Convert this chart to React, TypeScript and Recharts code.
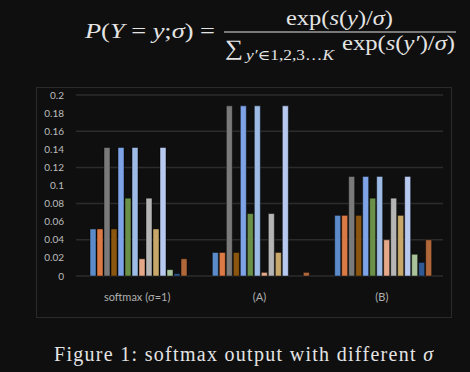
import React from "react";
import { BarChart, Bar, XAxis, YAxis, CartesianGrid } from "recharts";

const categories = ["softmax (σ=1)", "(A)", "(B)"];
const softmaxValues = [0.052, 0.052, 0.142, 0.052, 0.142, 0.086, 0.142, 0.019, 0.086, 0.052, 0.142, 0.007, 0.0026, 0.019];
const aValues = [0.026, 0.026, 0.188, 0.026, 0.188, 0.069, 0.188, 0.004, 0.069, 0.026, 0.188, 0, 0, 0.004];
const bValues = [0.067, 0.067, 0.11, 0.067, 0.11, 0.086, 0.11, 0.04, 0.086, 0.067, 0.11, 0.024, 0.015, 0.04];
const seriesColors = [
  "#5b8bc9", "#dc7a45", "#7a7a7a", "#8b560f", "#7ea3e6", "#6b9048", "#9dbbe5",
  "#e5a98a", "#b5b5b5", "#c7a86a", "#b8c9ef", "#a9c49a", "#2f5a93", "#b0683a",
];
const yTicks = [0, 0.02, 0.04, 0.06, 0.08, 0.1, 0.12, 0.14, 0.16, 0.18, 0.2];

const groups = [softmaxValues, aValues, bValues];
const data = categories.map((name, ci) => {
  const row: Record<string, number | string> = { name };
  groups[ci].forEach((v, si) => {
    row["s" + si] = v;
  });
  return row;
});

const textColor = "#e4e4e4";
const serif = "'Liberation Serif', 'DejaVu Serif', serif";

const XTick = (props: any) => {
  const { x, y, payload } = props;
  return (
    <text x={x} y={y + 20} textAnchor="middle" dominantBaseline="central" fill="#b0b0b0" fontSize={11} fontFamily="Lato, 'Open Sans', sans-serif">
      {payload.value}
    </text>
  );
};

export default function App() {
  return (
    <div style={{ position: "fixed", left: 0, top: 0, width: 470, height: 372, background: "#0f0f0f", overflow: "hidden" }}>
      <svg width={470} height={372} style={{ position: "absolute", left: 0, top: 0 }}>
        <text x={85} y={38} fontSize={22} fontFamily={serif} fill={textColor} textLength={130} lengthAdjust="spacingAndGlyphs">
          <tspan fontStyle="italic">P</tspan>(<tspan fontStyle="italic">Y</tspan> = <tspan fontStyle="italic">y</tspan>;<tspan fontStyle="italic">σ</tspan>) =
        </text>
        <text x={286} y={25} fontSize={21} fontFamily={serif} fill={textColor} textLength={107} lengthAdjust="spacingAndGlyphs">
          exp(<tspan fontStyle="italic">s</tspan>(<tspan fontStyle="italic">y</tspan>)/<tspan fontStyle="italic">σ</tspan>)
        </text>
        <line x1={224} x2={456} y1={32} y2={32} stroke={textColor} strokeWidth={1} />
        <text x={225} y={55} fontSize={22} fontFamily={serif} fill={textColor} textLength={18} lengthAdjust="spacingAndGlyphs">∑</text>
        <text x={246} y={60} fontSize={14} fontFamily={serif} fill={textColor} textLength={88} lengthAdjust="spacingAndGlyphs">
          <tspan fontStyle="italic">y′</tspan>∈1,2,3…<tspan fontStyle="italic">K</tspan>
        </text>
        <text x={342} y={50} fontSize={21} fontFamily={serif} fill={textColor} textLength={113} lengthAdjust="spacingAndGlyphs">
          exp(<tspan fontStyle="italic">s</tspan>(<tspan fontStyle="italic">y′</tspan>)/<tspan fontStyle="italic">σ</tspan>)
        </text>
        <text x={54} y={361} fontSize={20} fontFamily={serif} fill={textColor} textLength={379} lengthAdjust="spacing">
          Figure 1: softmax output with different <tspan fontStyle="italic">σ</tspan>
        </text>
      </svg>
      <div style={{ position: "absolute", left: 36, top: 87, width: 416, height: 231, border: "1px solid #2a2a2a", boxSizing: "border-box" }} />
      <div style={{ position: "absolute", left: 36, top: 87 }}>
        <BarChart width={416} height={231} data={data} margin={{ top: 8, right: 9, left: 0, bottom: 0 }} barGap={1} barCategoryGap={14}>
          <CartesianGrid vertical={false} stroke="#2c2c2c" strokeWidth={1.5} />
          <XAxis dataKey="name" axisLine={false} tickLine={false} tickSize={0} tickMargin={0} height={42} tick={<XTick />} interval={0} />
          <YAxis
            domain={[0, 0.2]}
            ticks={yTicks}
            axisLine={false}
            tickLine={false}
            tickSize={0}
            tickMargin={12}
            width={40}
            tick={{ fill: "#bdbdbd", fontSize: 10, fontFamily: "Lato, 'Open Sans', sans-serif" }}
            tickFormatter={(v: number) => String(v)}
          />
          {seriesColors.map((c, i) => (
            <Bar key={i} dataKey={"s" + i} fill={c} stroke="rgba(0,0,0,0.45)" strokeWidth={1} isAnimationActive={false} />
          ))}
        </BarChart>
      </div>
    </div>
  );
}
